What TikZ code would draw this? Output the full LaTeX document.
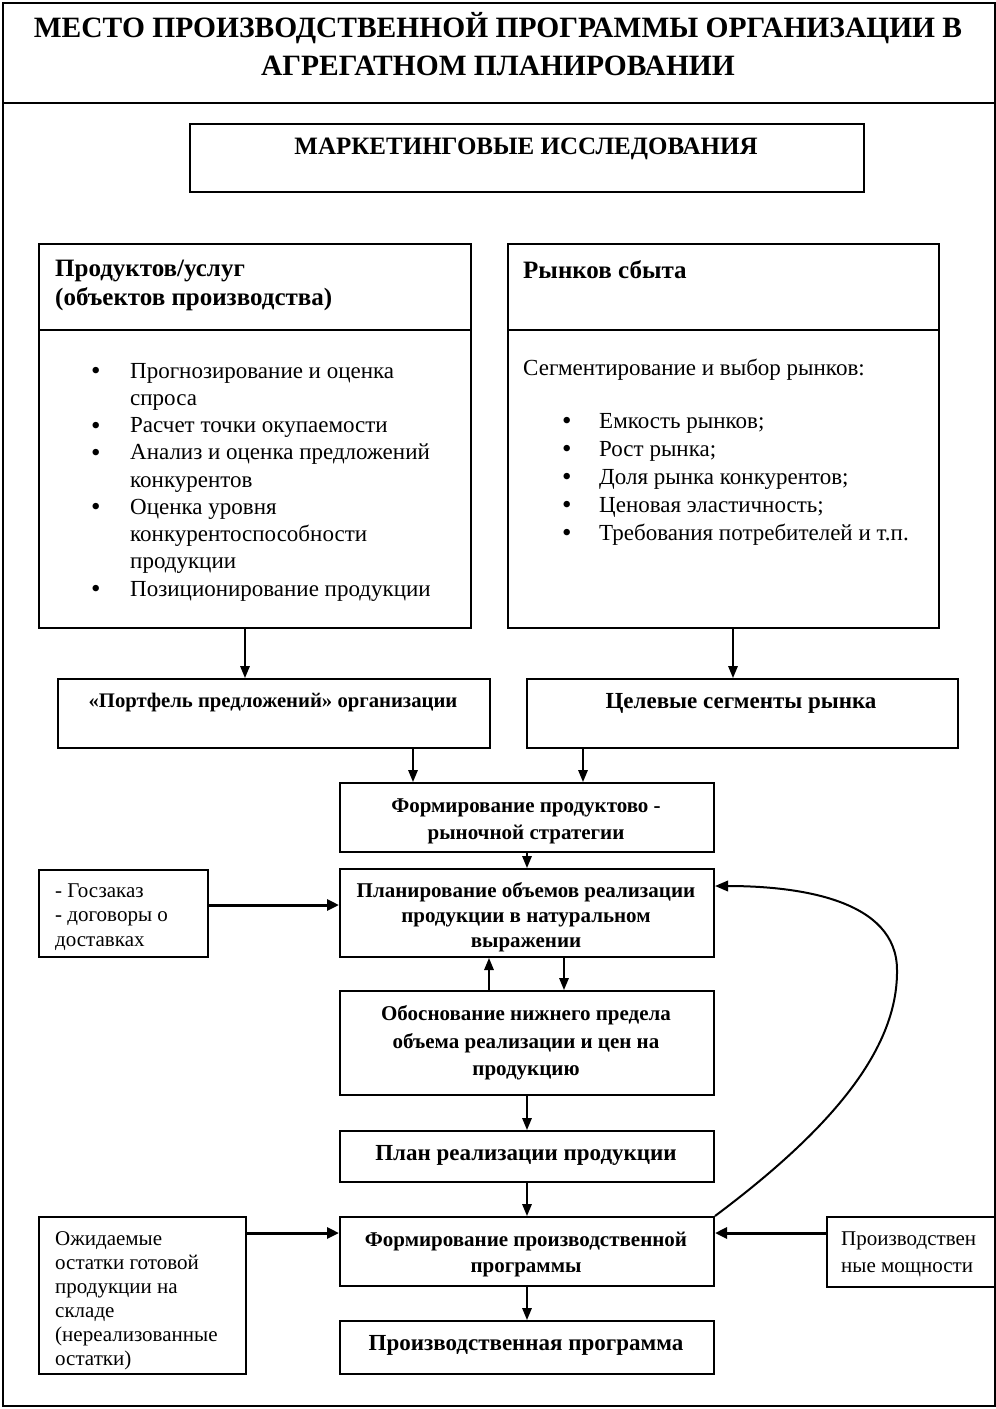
\documentclass[tikz,border=0pt]{standalone}
\usepackage{fontspec}
\setmainfont{Liberation Serif}
\usetikzlibrary{arrows.meta,calc}
\newcommand\blt[1]{\makebox[#1][l]{\hspace*{1pt}{\fontsize{27}{0}\selectfont\raisebox{-1.5pt}{•}}}}
\begin{document}
\begin{tikzpicture}[x=1pt,y=-1pt,
  box/.style={draw,line width=2pt,anchor=north west,inner sep=0pt},
  arr/.style={line width=1.6pt,-{Triangle[length=12pt,width=9.5pt]}},
  tarr/.style={line width=3pt,-{Triangle[length=12pt,width=11pt]}},
  txt/.style={inner sep=0pt,align=center},
  ltxt/.style={inner sep=0pt,align=left,anchor=west},
  bfA/.style={font=\bfseries\fontsize{21}{25}\selectfont},
  bfB/.style={font=\bfseries\fontsize{23}{27}\selectfont},
  rgA/.style={font=\fontsize{21}{24}\selectfont},
  rgB/.style={font=\fontsize{23}{27.25}\selectfont},
]
\useasboundingbox (0,0) rectangle (996,1409);
% frame and title
\node[box,minimum width=992pt,minimum height=1403pt] (frame) at (2,2) {};
\coordinate (ytitle) at (0,103);
\draw[line width=2pt] (frame.west |- ytitle) -- (frame.east |- ytitle);
\node[txt,font=\bfseries\fontsize{29.5}{38}\selectfont] (title) at (498,44)
  {МЕСТО ПРОИЗВОДСТВЕННОЙ ПРОГРАММЫ ОРГАНИЗАЦИИ В\\АГРЕГАТНОМ ПЛАНИРОВАНИИ};
% marketing
\node[box,minimum width=674pt,minimum height=68pt] (mk) at (189,123) {};
\node[txt,font=\bfseries\fontsize{25}{28}\selectfont] (mkt) at (526,148.5) {МАРКЕТИНГОВЫЕ ИССЛЕДОВАНИЯ};
% left big box
\node[box,minimum width=432pt,minimum height=384pt] (lb) at (38,243) {};
\coordinate (ydiv) at (0,330);
\draw[line width=2pt] (lb.west |- ydiv) -- (lb.east |- ydiv);
\node[ltxt,font=\bfseries\fontsize{25}{29}\selectfont] (lbh) at (55,285)
  {Продуктов/услуг\\(объектов производства)};
\node[ltxt,rgB] (lbb) at (90,482)
  {\blt{40pt}Прогнозирование и оценка\\
   \hspace*{40pt}спроса\\
   \blt{40pt}Расчет точки окупаемости\\
   \blt{40pt}Анализ и оценка предложений\\
   \hspace*{40pt}конкурентов\\
   \blt{40pt}Оценка уровня\\
   \hspace*{40pt}конкурентоспособности\\
   \hspace*{40pt}продукции\\
   \blt{40pt}Позиционирование продукции};
% right big box
\node[box,minimum width=431pt,minimum height=384pt] (rb) at (507,243) {};
\draw[line width=2pt] (rb.west |- ydiv) -- (rb.east |- ydiv);
\node[ltxt,font=\bfseries\fontsize{25}{29}\selectfont] (rbh) at (523,270) {Рынков сбыта};
\node[ltxt,rgB] (rbs) at (523,370) {Сегментирование и выбор рынков:};
\node[ltxt,font=\fontsize{23}{28}\selectfont] (rbb) at (561,479)
  {\blt{38pt}Емкость рынков;\\
   \blt{38pt}Рост рынка;\\
   \blt{38pt}Доля рынка конкурентов;\\
   \blt{38pt}Ценовая эластичность;\\
   \blt{38pt}Требования потребителей и т.п.};
% second row
\node[box,minimum width=432pt,minimum height=69pt] (pf) at (57,678) {};
\node[txt,font=\bfseries\fontsize{20.7}{24}\selectfont] (pft) at (273,702.5) {«Портфель предложений» организации};
\node[box,minimum width=431pt,minimum height=69pt] (ts) at (526,678) {};
\node[txt,bfB] (tst) at (741,703.5) {Целевые сегменты рынка};
% center column
\node[box,minimum width=374pt,minimum height=69pt] (fs) at (339,782) {};
\node[txt,font=\bfseries\fontsize{21}{27}\selectfont] (fst) at (526,821) {Формирование продуктово -\\рыночной стратегии};
\node[box,minimum width=374pt,minimum height=88pt] (pl) at (339,868) {};
\node[txt,bfA] (plt) at (526,917.5) {Планирование объемов реализации\\продукции в натуральном\\выражении};
\node[box,minimum width=169pt,minimum height=87pt] (gz) at (38,869) {};
\node[ltxt,font=\fontsize{21}{24.5}\selectfont] (gzt) at (55,917) {- Госзаказ\\- договоры о\\доставках};
\node[box,minimum width=374pt,minimum height=104pt] (ob) at (339,990) {};
\node[txt,font=\bfseries\fontsize{21}{27.5}\selectfont] (obt) at (526,1043) {Обоснование нижнего предела\\объема реализации и цен на\\продукцию};
\node[box,minimum width=374pt,minimum height=51pt] (pr) at (339,1130) {};
\node[txt,bfB] (prt) at (526,1155.5) {План реализации продукции};
\node[box,minimum width=374pt,minimum height=69pt] (fp) at (339,1216) {};
\node[txt,font=\bfseries\fontsize{21}{26}\selectfont] (fpt) at (526,1254.5) {Формирование производственной\\программы};
\node[box,minimum width=207pt,minimum height=157pt] (oz) at (38,1216) {};
\node[ltxt,rgA] (ozt) at (55,1300.5) {Ожидаемые\\остатки готовой\\продукции на\\складе\\(нереализованные\\остатки)};
\node[box,minimum width=168pt,minimum height=70pt] (pm) at (826,1216) {};
\node[ltxt,font=\fontsize{21}{27}\selectfont] (pmt) at (841,1254) {Производствен\\ные мощности};
\node[box,minimum width=374pt,minimum height=53pt] (pp) at (339,1320) {};
\node[txt,bfB] (ppt) at (526,1345.5) {Производственная программа};
% helper coordinates
\coordinate (x245) at (245,0);
\coordinate (x733) at (733,0);
\coordinate (x413) at (413,0);
\coordinate (x583) at (583,0);
\coordinate (x489) at (489,0);
\coordinate (x564) at (564,0);
\coordinate (y905) at (0,905);
\coordinate (y1233) at (0,1233);
\coordinate (y886) at (0,886);
\coordinate (cmid) at (897,970);
% connectors
\draw[arr] (lb.south -| x245) -- (pf.north -| x245);
\draw[arr] (rb.south -| x733) -- (ts.north -| x733);
\draw[arr] (pf.south -| x413) -- (fs.north -| x413);
\draw[arr] (ts.south -| x583) -- (fs.north -| x583);
\draw[arr] (fs.south) -- (pl.north);
\draw[tarr] (gz.east |- y905) -- (pl.west |- y905);
\draw[arr] (ob.north -| x489) -- (pl.south -| x489);
\draw[arr] (pl.south -| x564) -- (ob.north -| x564);
\draw[arr] (ob.south) -- (pr.north);
\draw[arr] (pr.south) -- (fp.north);
\draw[tarr] (oz.east |- y1233) -- (fp.west |- y1233);
\draw[tarr] (pm.west |- y1233) -- (fp.east |- y1233);
\draw[arr] (fp.south) -- (pp.north);
\draw[line width=2pt,-{Triangle[length=13pt,width=10.5pt]}] (fp.north east)
  .. controls (830,1130) and (898,1050) .. (cmid)
  .. controls (897,900) and (800,886) .. (pl.east |- y886);
\end{tikzpicture}
\end{document}
